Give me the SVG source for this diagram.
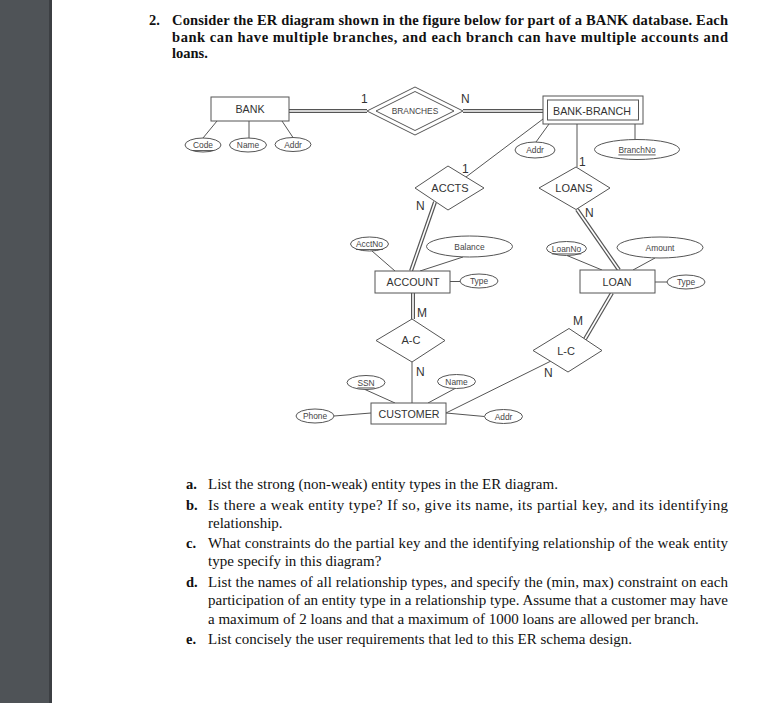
<svg xmlns="http://www.w3.org/2000/svg" width="779" height="703" viewBox="0 0 779 703">
<style>
.bar{fill:#4f5357}
.q{font-family:"Liberation Serif","Times New Roman",serif;font-size:15px;fill:#111}
.qb{font-family:"Liberation Serif","Times New Roman",serif;font-size:14.5px;font-weight:bold;fill:#111}
.shape{fill:#fff;stroke:#555;stroke-width:1}
.ln{stroke:#555;stroke-width:1;fill:none}
.dO{stroke:#555;stroke-width:4;fill:none}
.dI{stroke:#fff;stroke-width:1.6;fill:none}
.ent{font-family:"Liberation Sans",Arial,sans-serif;font-size:10.7px;fill:#333;text-anchor:middle;dominant-baseline:central}
.rel{font-family:"Liberation Sans",Arial,sans-serif;font-size:11px;fill:#333;text-anchor:middle;dominant-baseline:central}
.att{font-family:"Liberation Sans",Arial,sans-serif;font-size:8.4px;fill:#444;text-anchor:middle;dominant-baseline:central}
.key{text-decoration:underline}
.card{font-family:"Liberation Sans",Arial,sans-serif;font-size:12px;fill:#333}
</style>
<rect x="0" y="0" width="779" height="703" fill="#fff"/>
<rect class="bar" x="0" y="0" width="52" height="703"/>
<rect x="49" y="0" width="3" height="703" fill="#3c3f43"/>

<g id="question">
<text class="qb" x="149" y="25">2.</text>
<text class="qb" x="172" y="25" textLength="556" lengthAdjust="spacing">Consider the ER diagram shown in the figure below for part of a BANK database. Each</text>
<text class="qb" x="172" y="41.5" textLength="556" lengthAdjust="spacing">bank can have multiple branches, and each branch can have multiple accounts and</text>
<text class="qb" x="172" y="58">loans.</text>
</g>

<g id="connectors">
<line class="dO" x1="289" y1="111" x2="367" y2="111"/>
<line class="dI" x1="289" y1="111" x2="367" y2="111"/>
<line class="dO" x1="463" y1="111" x2="543" y2="111"/>
<line class="dI" x1="463" y1="111" x2="543" y2="111"/>
<line class="dO" x1="577" y1="209.5" x2="619" y2="270"/>
<line class="dI" x1="577" y1="209.5" x2="619" y2="270"/>
<line class="dO" x1="435" y1="202" x2="411" y2="271"/>
<line class="dI" x1="435" y1="202" x2="411" y2="271"/>
<line class="dO" x1="413" y1="293" x2="413" y2="319"/>
<line class="dI" x1="413" y1="293" x2="413" y2="319"/>
<line class="dO" x1="585" y1="339" x2="612" y2="293"/>
<line class="dI" x1="585" y1="339" x2="612" y2="293"/>
<line class="ln" x1="217" y1="121" x2="203" y2="138"/>
<line class="ln" x1="249" y1="121" x2="249" y2="138"/>
<line class="ln" x1="282" y1="121" x2="293" y2="137.5"/>
<line class="ln" x1="549" y1="124" x2="536" y2="142"/>
<line class="ln" x1="635" y1="124" x2="635" y2="139.5"/>
<line class="ln" x1="577" y1="124" x2="577" y2="167"/>
<line class="ln" x1="466" y1="177" x2="547" y2="116"/>
<line class="ln" x1="655" y1="282" x2="667" y2="282"/>
<line class="ln" x1="567" y1="255.5" x2="602" y2="270"/>
<line class="ln" x1="655" y1="258" x2="633" y2="270"/>
<line class="ln" x1="372" y1="251" x2="395" y2="271"/>
<line class="ln" x1="463" y1="257" x2="420" y2="271"/>
<line class="ln" x1="450" y1="281.5" x2="460" y2="281.5"/>
<line class="ln" x1="412" y1="362" x2="412" y2="403"/>
<line class="ln" x1="365" y1="389.5" x2="395" y2="403"/>
<line class="ln" x1="455" y1="388.5" x2="428" y2="403"/>
<line class="ln" x1="334" y1="416" x2="371" y2="413"/>
<line class="ln" x1="446" y1="413" x2="484.5" y2="416.5"/>
<line class="ln" x1="446" y1="413" x2="551" y2="361"/>
<text class="card" x="361" y="103">1</text>
<text class="card" x="461" y="103">N</text>
<text class="card" x="579" y="166">1</text>
<text class="card" x="462" y="173">1</text>
<text class="card" x="416" y="210">N</text>
<text class="card" x="585" y="217">N</text>
<text class="card" x="417" y="317">M</text>
<text class="card" x="416" y="376">N</text>
<text class="card" x="573" y="325">M</text>
<text class="card" x="544" y="377">N</text>
</g>

<g id="BANK">
<rect class="shape" x="211" y="97" width="78" height="24"/>
<text class="ent" x="250" y="109">BANK</text>
</g>
<g id="BANK_Code"><ellipse class="shape" cx="203" cy="145" rx="18" ry="7"/><text class="att key" x="203" y="145">Code</text></g>
<g id="BANK_Name"><ellipse class="shape" cx="248" cy="145" rx="18.5" ry="7"/><text class="att" x="248" y="145">Name</text></g>
<g id="BANK_Addr"><ellipse class="shape" cx="293" cy="144.5" rx="18" ry="7"/><text class="att" x="293" y="144.5">Addr</text></g>

<g id="BRANCHES">
<polygon class="shape" points="367,111 415,87 463,111 415,135"/>
<polygon class="shape" points="376,111 415,91.5 454,111 415,130.5"/>
<text class="att" x="415" y="111">BRANCHES</text>
</g>

<g id="BANK-BRANCH">
<rect class="shape" x="543" y="96" width="100" height="28"/>
<rect class="shape" x="547.5" y="100" width="91" height="20"/>
<text class="ent" x="592" y="110.5">BANK-BRANCH</text>
</g>
<g id="BB_Addr"><ellipse class="shape" cx="535" cy="150" rx="20" ry="8"/><text class="att" x="535" y="150">Addr</text></g>
<g id="BB_BranchNo"><ellipse class="shape" cx="637" cy="149.5" rx="42.5" ry="10"/><text class="att key" x="637" y="149.5">BranchNo</text></g>

<g id="ACCTS">
<polygon class="shape" points="415,188 448,166 484,188 448,210"/>
<text class="rel" x="450" y="188">ACCTS</text>
</g>

<g id="LOANS">
<polygon class="shape" points="539,188 576,167 610,188 576,209.5"/>
<text class="rel" x="574" y="188">LOANS</text>
</g>

<g id="ACCOUNT">
<rect class="shape" x="375" y="271" width="75" height="22"/>
<text class="ent" x="413" y="282">ACCOUNT</text>
</g>
<g id="ACC_AcctNo"><ellipse class="shape" cx="369.5" cy="244" rx="19" ry="7"/><text class="att key" x="369.5" y="244">AcctNo</text></g>
<g id="ACC_Balance"><ellipse class="shape" cx="469.5" cy="246.5" rx="43" ry="10.5"/><text class="att" x="469.5" y="246.5">Balance</text></g>
<g id="ACC_Type"><ellipse class="shape" cx="479" cy="281" rx="19" ry="7"/><text class="att" x="479" y="281">Type</text></g>

<g id="LOAN">
<rect class="shape" x="580" y="270" width="75" height="23"/>
<text class="ent" x="617" y="282">LOAN</text>
</g>
<g id="LOAN_LoanNo"><ellipse class="shape" cx="566.5" cy="248.5" rx="20" ry="7"/><text class="att key" x="566.5" y="248.5">LoanNo</text></g>
<g id="LOAN_Amount"><ellipse class="shape" cx="660" cy="247.5" rx="43" ry="10.5"/><text class="att" x="660" y="247.5">Amount</text></g>
<g id="LOAN_Type"><ellipse class="shape" cx="686" cy="282" rx="19" ry="7"/><text class="att" x="686" y="282">Type</text></g>

<g id="A-C">
<polygon class="shape" points="376,340.5 412,319 445,340.5 412,362"/>
<text class="rel" x="411" y="340">A-C</text>
</g>

<g id="L-C">
<polygon class="shape" points="533,350.5 569,328.5 602,350.5 568,372"/>
<text class="rel" x="566" y="350.5">L-C</text>
</g>

<g id="CUSTOMER">
<rect class="shape" x="371" y="403" width="75" height="21"/>
<text class="ent" x="409" y="413.5">CUSTOMER</text>
</g>
<g id="CUST_SSN"><ellipse class="shape" cx="366" cy="382.5" rx="19" ry="7"/><text class="att key" x="366" y="382.5">SSN</text></g>
<g id="CUST_Name"><ellipse class="shape" cx="456.5" cy="381.5" rx="19" ry="7"/><text class="att" x="456.5" y="381.5">Name</text></g>
<g id="CUST_Phone"><ellipse class="shape" cx="315" cy="416" rx="19" ry="7"/><text class="att" x="315" y="416">Phone</text></g>
<g id="CUST_Addr"><ellipse class="shape" cx="503.5" cy="416.5" rx="19" ry="7"/><text class="att" x="503.5" y="416.5">Addr</text></g>

<g id="subquestions">
<text class="qb" x="186" y="489">a.</text>
<text class="q" x="208" y="489">List the strong (non-weak) entity types in the ER diagram.</text>
<text class="qb" x="186" y="509.5">b.</text>
<text class="q" x="208" y="509.5" textLength="520" lengthAdjust="spacing">Is there a weak entity type? If so, give its name, its partial key, and its identifying</text>
<text class="q" x="208" y="527.5">relationship.</text>
<text class="qb" x="186" y="548">c.</text>
<text class="q" x="208" y="548" textLength="520" lengthAdjust="spacing">What constraints do the partial key and the identifying relationship of the weak entity</text>
<text class="q" x="208" y="566">type specify in this diagram?</text>
<text class="qb" x="186" y="586.5">d.</text>
<text class="q" x="208" y="586.5" textLength="520" lengthAdjust="spacing">List the names of all relationship types, and specify the (min, max) constraint on each</text>
<text class="q" x="208" y="605" textLength="520" lengthAdjust="spacing">participation of an entity type in a relationship type. Assume that a customer may have</text>
<text class="q" x="208" y="623.5">a maximum of 2 loans and that a maximum of 1000 loans are allowed per branch.</text>
<text class="qb" x="186" y="644">e.</text>
<text class="q" x="208" y="644">List concisely the user requirements that led to this ER schema design.</text>
</g>
</svg>
